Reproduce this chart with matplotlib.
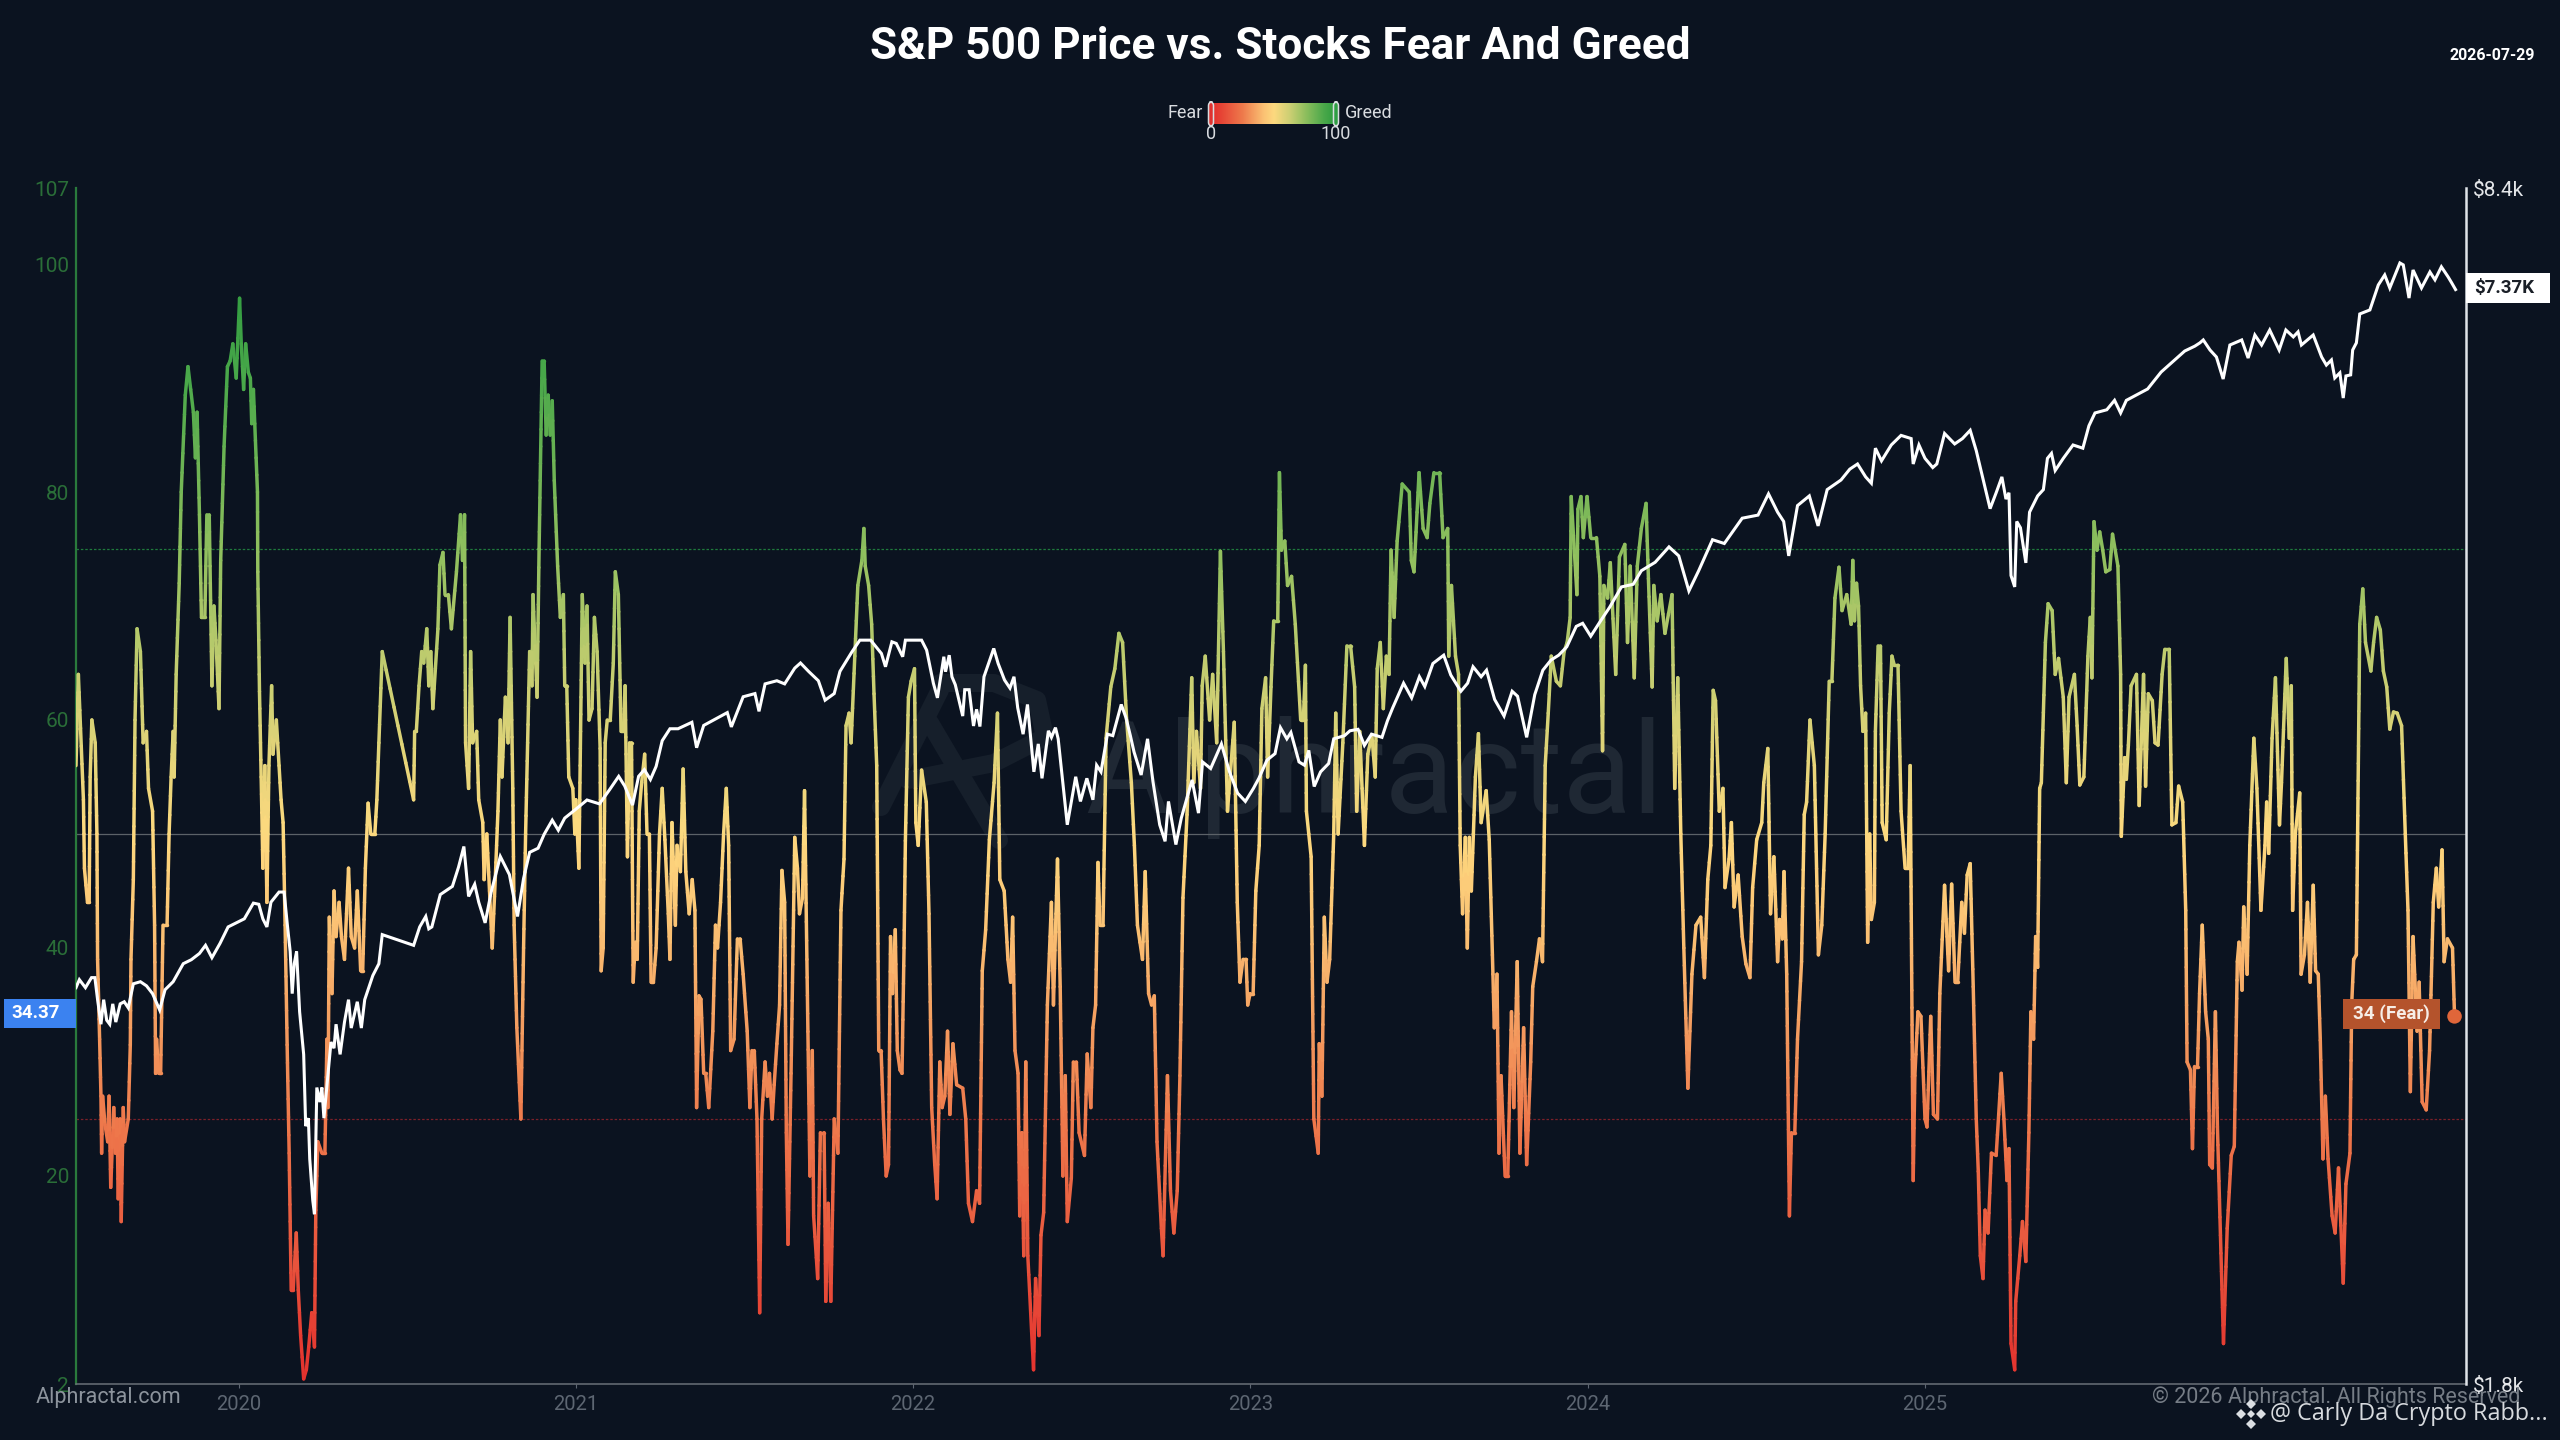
import numpy as np
import matplotlib
matplotlib.use("Agg")
import matplotlib.pyplot as plt
from matplotlib.collections import LineCollection
from matplotlib.colors import LinearSegmentedColormap
from matplotlib.lines import Line2D
from matplotlib.patches import Rectangle, FancyBboxPatch, Polygon
from matplotlib.ticker import NullLocator

plt.rcParams['font.family'] = ['Roboto', 'DejaVu Sans']

# ---------- data: (decimal year, value) ----------
fg_2019 = [(2019.518,56),(2019.525,64),(2019.540,53),(2019.543,47),(2019.552,44),(2019.557,44),(2019.560,55),(2019.565,60),(2019.575,58),(2019.580,50),(2019.582,39),(2019.588,32),(2019.592,27),(2019.594,22),(2019.597,27),(2019.604,24.5),(2019.612,23),(2019.616,27),(2019.621,19),(2019.630,26),(2019.635,22),(2019.640,25),(2019.643,18),(2019.649,25),(2019.652,16),(2019.658,26),(2019.662,23),(2019.673,25),(2019.679,31.5),(2019.681,39),(2019.688,46),(2019.693,60),(2019.699,68),(2019.709,66),(2019.717,58),(2019.727,59),(2019.733,54),(2019.745,52),(2019.751,42),(2019.754,29),(2019.757,32),(2019.763,29),(2019.769,29),(2019.776,42),(2019.788,42),(2019.794,50),(2019.800,55),(2019.806,59),(2019.809,55),(2019.815,64),(2019.824,72),(2019.830,80),(2019.842,88.5),(2019.850,91),(2019.858,89),(2019.866,87),(2019.872,83),(2019.877,87),(2019.884,78),(2019.890,69),(2019.900,69),(2019.906,78),(2019.913,78),(2019.921,63),(2019.927,70),(2019.933,67),(2019.942,61),(2019.947,74),(2019.957,84),(2019.967,91),(2019.975,91.5),(2019.983,93),(2019.993,90)]
fg_2020 = [(2020.003,97),(2020.008,93),(2020.015,89),(2020.021,93),(2020.029,90.5),(2020.035,90),(2020.039,86),(2020.044,89),(2020.048,86),(2020.056,80),(2020.057,73),(2020.062,62.5),(2020.068,53.5),(2020.072,47),(2020.078,56),(2020.084,44),(2020.090,56),(2020.098,63),(2020.102,57),(2020.112,60),(2020.120,56),(2020.126,53),(2020.132,51),(2020.138,42),(2020.144,31.5),(2020.150,22),(2020.156,10),(2020.162,10),(2020.171,15),(2020.177,10),(2020.184,6),(2020.193,2.2),(2020.201,3),(2020.208,5),(2020.217,8),(2020.225,5),(2020.229,17),(2020.235,23),(2020.247,22),(2020.256,22),(2020.262,32),(2020.265,26),(2020.269,42.7),(2020.277,36),(2020.283,45),(2020.289,41),(2020.298,44),(2020.305,41),(2020.314,39),(2020.320,43),(2020.326,47),(2020.334,41),(2020.344,40),(2020.352,45),(2020.362,38),(2020.368,38),(2020.376,47),(2020.384,52.7),(2020.392,50),(2020.404,50),(2020.410,53),(2020.416,58),(2020.426,66),(2020.519,53),(2020.522,59),(2020.527,59),(2020.535,63),(2020.543,66),(2020.549,65),(2020.558,68),(2020.564,63),(2020.570,66),(2020.576,61),(2020.591,68),(2020.597,73.6),(2020.606,74.7),(2020.612,71),(2020.622,71),(2020.631,68),(2020.646,73),(2020.658,78),(2020.664,74),(2020.670,78),(2020.673,58),(2020.682,54),(2020.688,66),(2020.694,58),(2020.706,59),(2020.712,53),(2020.724,51),(2020.728,46),(2020.736,50),(2020.752,40),(2020.761,46),(2020.769,52),(2020.776,60),(2020.781,55),(2020.791,62),(2020.799,58),(2020.805,69),(2020.813,54),(2020.817,42),(2020.825,33),(2020.837,25),(2020.845,40),(2020.851,50),(2020.863,66),(2020.870,63),(2020.873,71),(2020.885,62),(2020.891,75),(2020.900,91.5),(2020.906,91.5),(2020.912,85),(2020.918,88.5),(2020.924,85),(2020.930,88),(2020.936,81),(2020.946,73.5),(2020.954,69),(2020.963,71),(2020.967,63),(2020.973,63),(2020.979,55),(2020.991,54),(2020.997,50)]
fg_2021 = [(2021.000,53),(2021.009,47),(2021.019,71),(2021.027,65),(2021.033,70),(2021.039,60),(2021.048,61),(2021.055,69),(2021.063,66),(2021.072,57.5),(2021.075,38),(2021.081,40),(2021.087,58),(2021.093,60),(2021.102,60),(2021.111,65),(2021.117,73),(2021.126,71),(2021.134,59),(2021.141,59),(2021.146,63),(2021.153,48),(2021.159,58),(2021.165,58),(2021.170,37),(2021.176,40.5),(2021.182,39),(2021.188,52),(2021.195,54.5),(2021.204,57),(2021.211,50),(2021.218,50),(2021.223,37),(2021.230,37),(2021.238,40),(2021.248,50),(2021.256,54),(2021.264,49.5),(2021.274,43),(2021.279,39),(2021.285,51),(2021.295,42),(2021.300,49),(2021.310,46.7),(2021.318,55.7),(2021.326,46.7),(2021.336,43),(2021.345,46),(2021.353,43.3),(2021.358,26),(2021.365,35.8),(2021.371,35.5),(2021.379,29),(2021.385,29),(2021.394,26),(2021.406,32.7),(2021.414,42),(2021.420,40),(2021.429,44),(2021.438,50),(2021.446,54),(2021.453,49),(2021.459,31),(2021.469,32),(2021.479,40.8),(2021.487,40.8),(2021.496,37.7),(2021.508,32.7),(2021.516,26),(2021.522,31),(2021.529,31),(2021.537,25),(2021.545,8),(2021.551,25),(2021.561,30),(2021.568,27),(2021.574,29),(2021.582,25),(2021.588,28),(2021.596,31.6),(2021.604,35),(2021.611,46.8),(2021.619,44),(2021.624,23.8),(2021.629,14),(2021.638,29),(2021.649,49.7),(2021.657,47),(2021.663,43),(2021.672,44.4),(2021.678,53.8),(2021.685,39),(2021.694,20),(2021.701,31),(2021.705,16.5),(2021.717,11),(2021.725,23.8),(2021.736,23.8),(2021.741,9),(2021.748,17.6),(2021.756,9),(2021.766,25),(2021.777,22),(2021.786,43.3),(2021.795,47.8),(2021.801,59.5),(2021.810,60.6),(2021.816,58),(2021.827,65.6),(2021.836,71.8),(2021.848,74),(2021.854,76.8),(2021.858,73.5),(2021.868,71.8),(2021.877,68.4),(2021.884,62.3),(2021.892,56),(2021.898,31),(2021.905,31),(2021.912,25),(2021.920,20),(2021.927,21),(2021.933,41),(2021.939,36),(2021.947,41.6),(2021.953,31),(2021.961,29.3),(2021.967,29),(2021.973,40),(2021.977,49.4),(2021.986,62),(2021.994,63.4)]
fg_2022 = [(2022.004,64.5),(2022.008,51),(2022.015,49),(2022.025,55.6),(2022.039,52.8),(2022.047,43),(2022.055,26),(2022.064,21),(2022.071,18),(2022.079,30),(2022.086,26),(2022.094,27),(2022.102,32.7),(2022.109,25.4),(2022.118,31.6),(2022.129,28),(2022.147,27.7),(2022.156,25),(2022.164,17.6),(2022.176,16),(2022.188,18.7),(2022.197,17.6),(2022.205,38),(2022.215,41.6),(2022.226,49.5),(2022.240,54.5),(2022.250,60.6),(2022.257,46),(2022.270,45),(2022.281,39),(2022.289,37),(2022.295,42.7),(2022.302,31),(2022.311,29),(2022.316,16.5),(2022.322,23.8),(2022.328,13),(2022.334,30),(2022.340,13),(2022.357,3),(2022.363,11),(2022.373,6),(2022.379,14.8),(2022.387,16.8),(2022.398,35),(2022.410,44),(2022.416,35),(2022.428,47.8),(2022.436,36.6),(2022.444,20),(2022.451,28.8),(2022.457,16),(2022.469,19.8),(2022.475,30),(2022.484,30),(2022.492,23.8),(2022.508,21.8),(2022.516,30.7),(2022.527,26),(2022.533,33),(2022.541,35),(2022.548,47.5),(2022.554,42),(2022.563,42),(2022.572,58.4),(2022.586,62.9),(2022.598,64.5),(2022.610,67.6),(2022.621,66.8),(2022.633,60),(2022.647,54.5),(2022.656,49),(2022.665,42),(2022.680,39),(2022.688,46.7),(2022.698,36),(2022.707,35),(2022.715,35.8),(2022.723,23),(2022.736,15.4),(2022.741,13),(2022.754,28.8),(2022.763,18.7),(2022.773,15),(2022.783,18.7),(2022.791,28.8),(2022.800,44.4),(2022.812,51.7),(2022.826,63.7),(2022.832,54.5),(2022.840,59),(2022.852,54),(2022.857,63),(2022.866,65.6),(2022.879,60),(2022.888,64),(2022.900,58),(2022.911,74.8),(2022.920,66),(2022.932,52),(2022.952,59.8),(2022.961,44),(2022.969,37),(2022.978,39),(2022.987,39),(2022.992,35),(2022.999,36)]
fg_2023 = [(2023.008,36),(2023.016,45),(2023.026,49),(2023.034,61),(2023.045,63.7),(2023.051,55),(2023.061,62.9),(2023.069,68.7),(2023.081,68.7),(2023.086,81.7),(2023.092,74.9),(2023.102,75.7),(2023.110,71.8),(2023.122,72.6),(2023.133,68.4),(2023.149,60),(2023.157,60),(2023.163,64.8),(2023.166,52),(2023.180,48),(2023.188,25),(2023.201,22),(2023.204,31.6),(2023.212,27),(2023.219,42.7),(2023.227,37),(2023.235,39),(2023.247,50),(2023.253,60.6),(2023.260,50),(2023.274,58),(2023.286,66.5),(2023.297,66.5),(2023.309,62.9),(2023.315,52),(2023.324,59),(2023.338,49),(2023.348,57),(2023.360,58.7),(2023.370,55),(2023.376,64.5),(2023.385,66.8),(2023.394,61),(2023.403,65.6),(2023.411,64),(2023.417,74.9),(2023.426,69),(2023.435,75.7),(2023.450,80.7),(2023.471,80),(2023.477,74),(2023.485,73),(2023.500,81.7),(2023.512,76.8),(2023.524,76),(2023.532,79),(2023.544,81.7),(2023.561,81.7),(2023.571,76),(2023.585,76.8),(2023.588,65.6),(2023.596,71.8),(2023.608,65.6),(2023.617,64),(2023.622,49),(2023.629,43),(2023.637,49.7),(2023.643,40),(2023.649,49.7),(2023.655,45),(2023.667,55),(2023.676,58.8),(2023.684,51),(2023.699,53.8),(2023.708,49.5),(2023.719,37.7),(2023.723,33),(2023.731,37.7),(2023.737,22),(2023.743,28.8),(2023.755,20),(2023.763,20),(2023.774,34.4),(2023.781,26),(2023.791,38.8),(2023.799,22),(2023.810,33),(2023.819,21),(2023.831,30),(2023.837,36.6),(2023.848,38.8),(2023.857,40.8),(2023.866,38.8),(2023.874,56),(2023.883,60.6),(2023.892,65.6),(2023.907,63.4),(2023.919,63),(2023.930,66),(2023.939,66.8),(2023.948,69),(2023.951,79.6),(2023.968,71),(2023.971,78.5),(2023.980,79.6),(2023.987,76),(2023.998,79.6)]
fg_2024 = [(2024.009,76),(2024.026,76),(2024.036,72.6),(2024.044,57.3),(2024.048,71.8),(2024.059,70.7),(2024.067,73.8),(2024.083,64),(2024.094,74.3),(2024.110,75.4),(2024.118,66.8),(2024.126,73.5),(2024.138,63.7),(2024.147,73.5),(2024.159,76.8),(2024.173,79),(2024.180,72.4),(2024.191,62.9),(2024.196,71.8),(2024.206,68.7),(2024.217,71),(2024.229,67.6),(2024.250,71),(2024.258,54),(2024.267,63.7),(2024.276,50),(2024.285,40),(2024.297,27.7),(2024.309,37.7),(2024.321,42),(2024.335,42.7),(2024.346,37.4),(2024.356,46),(2024.365,49),(2024.372,62.6),(2024.379,61.7),(2024.390,52),(2024.401,54),(2024.407,45.3),(2024.419,47.8),(2024.426,51),(2024.434,43.6),(2024.446,46.4),(2024.458,41),(2024.469,38.6),(2024.481,37.4),(2024.489,45.3),(2024.501,49.5),(2024.516,51),(2024.522,54.5),(2024.534,57.5),(2024.542,43),(2024.552,48),(2024.563,38.8),(2024.569,42.5),(2024.577,40.8),(2024.582,46.7),(2024.590,37.7),(2024.598,16.5),(2024.604,23.8),(2024.614,23.8),(2024.622,32),(2024.634,38.8),(2024.642,51.7),(2024.649,52.8),(2024.659,60),(2024.672,56),(2024.684,39.4),(2024.694,42),(2024.704,50),(2024.716,63.4),(2024.724,63.4),(2024.733,70.7),(2024.745,73.4),(2024.754,69.6),(2024.768,71),(2024.781,68.4),(2024.786,74),(2024.791,68.7),(2024.797,72),(2024.803,70),(2024.809,63),(2024.816,59),(2024.824,60.6),(2024.830,40.5),(2024.836,50),(2024.841,42.5),(2024.850,44),(2024.853,59),(2024.861,66.5),(2024.868,66.5),(2024.873,51),(2024.885,49.5),(2024.894,60.6),(2024.902,65.6),(2024.909,64.8),(2024.920,64.8),(2024.929,52),(2024.941,47),(2024.950,47),(2024.956,56),(2024.965,19.6),(2024.970,28.8),(2024.979,34.4),(2024.988,34)]
fg_2025 = [(2025.000,25),(2025.006,24.3),(2025.017,34),(2025.025,25.4),(2025.037,25),(2025.044,36),(2025.058,45.5),(2025.070,38),(2025.079,45.6),(2025.089,37),(2025.097,37),(2025.109,44),(2025.117,41.3),(2025.125,46.4),(2025.134,47.4),(2025.143,36.6),(2025.152,25),(2025.158,20.4),(2025.164,13),(2025.172,11),(2025.178,17),(2025.187,15),(2025.197,22),(2025.211,21.8),(2025.226,29),(2025.234,25),(2025.243,19.6),(2025.249,22.4),(2025.255,5.3),(2025.266,3),(2025.269,9),(2025.281,13),(2025.289,16),(2025.299,12.5),(2025.308,23.8),(2025.314,34.4),(2025.322,32),(2025.328,41),(2025.334,38.3),(2025.340,54),(2025.345,54.5),(2025.357,66.8),(2025.365,70.2),(2025.377,69.6),(2025.386,64),(2025.396,65.4),(2025.410,62),(2025.419,54.5),(2025.427,62),(2025.443,64),(2025.451,59.5),(2025.459,54.3),(2025.471,55),(2025.483,65.6),(2025.490,69),(2025.495,63.7),(2025.501,77.4),(2025.510,74.9),(2025.518,76.5),(2025.527,74.9),(2025.536,73),(2025.548,73.2),(2025.556,76.3),(2025.572,73.5),(2025.580,64),(2025.582,49.8),(2025.592,56.7),(2025.597,54.8),(2025.603,57.8),(2025.611,63),(2025.627,64),(2025.635,52.5),(2025.648,64),(2025.654,54.2),(2025.662,62.3),(2025.674,61.7),(2025.682,58),(2025.691,57.8),(2025.703,64),(2025.711,66.2),(2025.724,66.2),(2025.732,50.8),(2025.744,51),(2025.752,54.2),(2025.764,52.8),(2025.773,43.3),(2025.777,30),(2025.787,29.3),(2025.793,22.4),(2025.799,29.6),(2025.808,29.6),(2025.814,36),(2025.822,42),(2025.832,34.4),(2025.840,32),(2025.844,21),(2025.852,20.7),(2025.861,34.4),(2025.867,24.3),(2025.885,5.3),(2025.896,15.4),(2025.908,21.8),(2025.917,22.6),(2025.926,38.8),(2025.931,40.5),(2025.940,36.3),(2025.945,43.6),(2025.955,37.7),(2025.963,49),(2025.975,58.4),(2025.984,54),(2025.996,43.3)]
fg_2026 = [(2026.008,49),(2026.013,52.8),(2026.019,48.3),(2026.029,58.4),(2026.039,63.7),(2026.051,50.8),(2026.057,54.5),(2026.071,65.4),(2026.080,58.4),(2026.086,63),(2026.090,43.3),(2026.098,50),(2026.111,53.6),(2026.115,37.7),(2026.125,39.4),(2026.134,44),(2026.142,37),(2026.151,45.5),(2026.158,38),(2026.166,37.7),(2026.172,31.9),(2026.180,21.5),(2026.187,27),(2026.195,21.5),(2026.207,16.5),(2026.216,15),(2026.226,20.7),(2026.240,10.6),(2026.248,19.3),(2026.260,22),(2026.265,35),(2026.271,39),(2026.279,39.4),(2026.289,68.4),(2026.298,71.5),(2026.306,66.8),(2026.322,64.3),(2026.330,66.8),(2026.339,69),(2026.350,67.9),(2026.359,64.3),(2026.369,62.9),(2026.378,59.2),(2026.389,60.7),(2026.400,60.6),(2026.413,59.5),(2026.424,50),(2026.432,43.3),(2026.439,27.4),(2026.447,41),(2026.459,32.7),(2026.465,37),(2026.474,26.5),(2026.486,25.8),(2026.496,31),(2026.507,44),(2026.516,47),(2026.523,43.6),(2026.533,48.6),(2026.539,38.8),(2026.549,40.8),(2026.564,40),(2026.570,34)]

spx_2019 = [(2019.518,2999),(2019.528,3030),(2019.546,2999),(2019.564,3038),(2019.574,3038),(2019.582,2953),(2019.592,2861),(2019.600,2953),(2019.609,2876),(2019.618,2861),(2019.627,2937),(2019.636,2869),(2019.649,2937),(2019.661,2945),(2019.673,2922),(2019.688,3014),(2019.709,3022),(2019.727,3006),(2019.745,2976),(2019.766,2914),(2019.782,2991),(2019.806,3022),(2019.836,3093),(2019.860,3109),(2019.884,3134),(2019.902,3167),(2019.921,3117),(2019.945,3175),(2019.969,3243),(2019.993,3260)]
spx_2020 = [(2020.017,3277),(2020.044,3344),(2020.060,3339),(2020.072,3277),(2020.084,3243),(2020.096,3348),(2020.120,3392),(2020.135,3392),(2020.144,3260),(2020.153,3142),(2020.159,2976),(2020.165,3093),(2020.172,3142),(2020.181,2907),(2020.193,2752),(2020.199,2509),(2020.207,2535),(2020.211,2405),(2020.220,2280),(2020.225,2240),(2020.232,2637),(2020.241,2588),(2020.247,2637),(2020.253,2535),(2020.274,2796),(2020.283,2774),(2020.289,2861),(2020.301,2752),(2020.314,2869),(2020.326,2953),(2020.334,2847),(2020.352,2945),(2020.364,2847),(2020.374,2953),(2020.398,3046),(2020.416,3093),(2020.426,3211),(2020.519,3167),(2020.537,3243),(2020.555,3287),(2020.564,3235),(2020.573,3243),(2020.598,3381),(2020.634,3417),(2020.652,3502),(2020.668,3597),(2020.682,3373),(2020.700,3426),(2020.712,3348),(2020.731,3260),(2020.749,3392),(2020.776,3551),(2020.803,3469),(2020.827,3287),(2020.845,3452),(2020.863,3570),(2020.888,3589),(2020.906,3654),(2020.930,3721),(2020.948,3673),(2020.967,3731),(2020.997,3770)]
spx_2021 = [(2021.033,3819),(2021.070,3800),(2021.100,3870),(2021.127,3937),(2021.145,3888),(2021.168,3794),(2021.186,3937),(2021.203,3971),(2021.221,3921),(2021.238,3988),(2021.256,4122),(2021.279,4186),(2021.303,4186),(2021.344,4221),(2021.358,4085),(2021.379,4204),(2021.414,4239),(2021.449,4274),(2021.461,4196),(2021.496,4362),(2021.531,4380),(2021.543,4281),(2021.561,4435),(2021.596,4453),(2021.619,4435),(2021.649,4526),(2021.666,4556),(2021.690,4507),(2021.719,4453),(2021.739,4343),(2021.766,4380),(2021.783,4507),(2021.818,4620),(2021.842,4692),(2021.874,4692),(2021.906,4612),(2021.918,4534),(2021.937,4682),(2021.950,4672),(2021.969,4593),(2021.977,4692)]
spx_2022 = [(2022.025,4692),(2022.040,4632),(2022.060,4439),(2022.072,4356),(2022.091,4593),(2022.096,4505),(2022.107,4602),(2022.115,4476),(2022.125,4430),(2022.147,4255),(2022.153,4402),(2022.166,4402),(2022.179,4201),(2022.188,4292),(2022.198,4198),(2022.210,4476),(2022.239,4642),(2022.252,4553),(2022.271,4457),(2022.287,4411),(2022.299,4476),(2022.310,4301),(2022.326,4157),(2022.339,4319),(2022.358,3960),(2022.371,4105),(2022.382,3927),(2022.401,4175),(2022.410,4140),(2022.422,4192),(2022.430,4132),(2022.457,3699),(2022.482,3935),(2022.496,3812),(2022.515,3927),(2022.533,3820),(2022.544,3994),(2022.557,3960),(2022.576,4157),(2022.592,4149),(2022.617,4319),(2022.631,4246),(2022.644,4149),(2022.655,4062),(2022.676,3944),(2022.695,4132),(2022.711,3911),(2022.731,3699),(2022.747,3621),(2022.757,3812),(2022.779,3606),(2022.795,3731),(2022.827,3919),(2022.846,3755),(2022.858,4011),(2022.882,3977),(2022.914,4105),(2022.938,3960),(2022.962,3853),(2022.985,3812)]
spx_2023 = [(2023.009,3877),(2023.025,3927),(2023.049,4020),(2023.073,4054),(2023.089,4192),(2023.108,4132),(2023.120,4166),(2023.144,4011),(2023.160,3994),(2023.173,4071),(2023.189,3886),(2023.208,3960),(2023.232,4003),(2023.247,4132),(2023.279,4149),(2023.295,4175),(2023.319,4183),(2023.338,4097),(2023.359,4157),(2023.390,4140),(2023.406,4228),(2023.422,4301),(2023.454,4439),(2023.478,4356),(2023.501,4476),(2023.517,4420),(2023.541,4553),(2023.573,4602),(2023.594,4486),(2023.624,4393),(2023.644,4439),(2023.660,4534),(2023.684,4476),(2023.700,4514),(2023.724,4347),(2023.752,4255),(2023.776,4393),(2023.792,4365),(2023.819,4140),(2023.843,4374),(2023.867,4514),(2023.891,4573),(2023.914,4602),(2023.938,4652),(2023.966,4776),(2023.985,4795)]
spx_2024 = [(2024.009,4716),(2024.036,4803),(2024.065,4895),(2024.100,5025),(2024.135,5042),(2024.159,5131),(2024.200,5187),(2024.241,5291),(2024.270,5230),(2024.300,4999),(2024.329,5131),(2024.370,5340),(2024.405,5314),(2024.458,5490),(2024.505,5512),(2024.536,5665),(2024.563,5533),(2024.581,5467),(2024.596,5230),(2024.622,5580),(2024.657,5650),(2024.683,5436),(2024.710,5696),(2024.751,5767),(2024.777,5848),(2024.800,5887),(2024.824,5790),(2024.841,5743),(2024.853,6008),(2024.871,5911),(2024.900,6033),(2024.929,6108),(2024.959,6083),(2024.965,5887),(2024.982,6033)]
spx_2025 = [(2025.000,5930),(2025.023,5860),(2025.035,5887),(2025.058,6123),(2025.088,6041),(2025.111,6083),(2025.134,6148),(2025.152,5989),(2025.175,5743),(2025.193,5558),(2025.211,5673),(2025.228,5790),(2025.240,5627),(2025.249,5673),(2025.255,5099),(2025.266,5025),(2025.272,5467),(2025.283,5423),(2025.299,5183),(2025.310,5533),(2025.334,5650),(2025.351,5696),(2025.363,5930),(2025.375,5968),(2025.386,5838),(2025.410,5930),(2025.439,6033),(2025.468,6008),(2025.486,6184),(2025.504,6287),(2025.539,6313),(2025.562,6390),(2025.580,6287),(2025.597,6390),(2025.660,6484),(2025.700,6627),(2025.740,6731),(2025.770,6809),(2025.800,6852),(2025.815,6881),(2025.825,6907),(2025.845,6818),(2025.864,6757),(2025.884,6568),(2025.904,6862),(2025.939,6907),(2025.958,6748),(2025.978,6951),(2025.998,6862)]
spx_2026 = [(2026.022,6996),(2026.050,6818),(2026.070,6996),(2026.092,6934),(2026.106,6979),(2026.116,6862),(2026.151,6951),(2026.176,6757),(2026.190,6687),(2026.205,6731),(2026.215,6577),(2026.230,6620),(2026.240,6409),(2026.248,6594),(2026.262,6603),(2026.268,6818),(2026.279,6881),(2026.289,7142),(2026.319,7179),(2026.329,7272),(2026.344,7414),(2026.363,7510),(2026.378,7385),(2026.408,7627),(2026.418,7608),(2026.435,7290),(2026.447,7558),(2026.472,7385),(2026.497,7539),(2026.512,7463),(2026.531,7589),(2026.551,7491),(2026.561,7437),(2026.573,7370)]

fg_years = [2020, 2021, 2022, 2023, 2024, 2025]
fg_ymin, fg_ymax = 1.75, 106.67
left_ticks = [fg_ymin, 20, 40, 60, 80, 100, fg_ymax]
left_labels = ['2', '20', '40', '60', '80', '100', '107']
zone_levels = {'greed': 75, 'neutral': 50, 'fear': 25}
current_fg = 34
current_spx = 7370
crosshair = 34.37

# ---------- layout helpers (pixels of the 2560x1440 canvas) ----------
W, H = 2560, 1440
BG = '#0b1320'
fig = plt.figure(figsize=(W/100, H/100), dpi=100, facecolor=BG)
def fx(x): return x / W
def fy(y): return 1 - y / H
L, R, T, B = 76, 2466, 188, 1384
ax = fig.add_axes([fx(L), fy(B), (R-L)/W, (B-T)/H])
ax.patch.set_alpha(0)

cmap = LinearSegmentedColormap.from_list('fg', [
    (0.00, '#e32b2b'), (0.25, '#ee7a4c'), (0.42, '#fbc274'), (0.50, '#fdd97f'),
    (0.62, '#cfd074'), (0.75, '#8fbf5e'), (0.90, '#4aa84a'), (1.00, '#2a9a3e')])

fg = np.array(fg_2019 + fg_2020 + fg_2021 + fg_2022 + fg_2023 + fg_2024 + fg_2025 + fg_2026)
spx = np.array(spx_2019 + spx_2020 + spx_2021 + spx_2022 + spx_2023 + spx_2024 + spx_2025 + spx_2026)

# gradient line: split every data segment so that colour follows the value
xs, ys = [], []
for (x0, y0), (x1, y1) in zip(fg[:-1], fg[1:]):
    n = max(1, int(abs(y1 - y0) / 1.5))
    t = np.linspace(0, 1, n, endpoint=False)
    xs.extend(x0 + (x1 - x0) * t); ys.extend(y0 + (y1 - y0) * t)
xs.append(fg[-1, 0]); ys.append(fg[-1, 1])
pts = np.column_stack([xs, ys]).reshape(-1, 1, 2)
segs = np.concatenate([pts[:-1], pts[1:]], axis=1)
lc = LineCollection(segs, cmap=cmap, norm=plt.Normalize(0, 100), linewidths=2.5,
                    capstyle='round', joinstyle='round', zorder=3)
lc.set_array((np.array(ys[:-1]) + np.array(ys[1:])) / 2)
ax.add_collection(lc)

xmin, xmax = 2019.518, 2026.604
ax.set_xlim(xmin, xmax)
ax.set_ylim(fg_ymin, fg_ymax)
ax.axhline(zone_levels['greed'], color='#1f7a3c', lw=0.9, ls=(0, (2, 1.5)), zorder=1)
ax.axhline(zone_levels['neutral'], color='#5c6268', lw=0.9, zorder=1)
ax.axhline(zone_levels['fear'], color='#7a2029', lw=0.9, ls=(0, (2, 1.5)), zorder=1)

ax.set_xticks(fg_years)
ax.set_xticklabels([str(y) for y in fg_years], color='#5d6672', fontsize=14.5)
ax.tick_params(axis='x', length=3, color='#5d6672', pad=5)
ax.set_yticks(left_ticks)
ax.set_yticklabels(left_labels, color='#2a6e38', fontsize=15)
ax.tick_params(axis='y', length=0, pad=5)
for s in ['top', 'right']:
    ax.spines[s].set_visible(False)
ax.spines['left'].set_color('#2a7a3c'); ax.spines['left'].set_linewidth(1.6)
ax.spines['bottom'].set_color('#6a7078'); ax.spines['bottom'].set_linewidth(1.1)

ax2 = ax.twinx()
ax2.patch.set_alpha(0)
ax2.set_yscale('log')
ax2.set_ylim(1800, 8400)
ax2.plot(spx[:, 0], spx[:, 1], color='white', lw=2.2, zorder=4, solid_joinstyle='miter')
ax2.set_yticks([1800, 8400])
ax2.set_yticklabels(['$1.8k', '$8.4k'], color='#e4e6e9', fontsize=15)
ax2.yaxis.set_minor_locator(NullLocator())
ax2.tick_params(axis='y', length=0, pad=5)
for s in ['top', 'left', 'bottom']:
    ax2.spines[s].set_visible(False)
ax2.spines['right'].set_color('#dfe3e8'); ax2.spines['right'].set_linewidth(1.8)

# last-value dot
ax.scatter([fg[-1, 0]], [current_fg], s=110, color='#e0663a', edgecolor='none', zorder=6, clip_on=False)

# ---------- watermark ----------
fig.text(fx(1085), fy(813), 'Alphractal', color='#1f2834', fontsize=92, ha='left', va='baseline', zorder=-1)
for p in ([(881, 807), (940, 690)],
          [(940, 683), (994, 683), (1037, 700), (1045, 737), (994, 763), (908, 780)],
          [(930, 723), (999, 840)]):
    fig.add_artist(Line2D([fx(a) for a, _ in p], [fy(b) for _, b in p], color='#161f2b', lw=13,
                          transform=fig.transFigure, zorder=-1, solid_capstyle='round'))

# ---------- title & texts ----------
fig.text(fx(1280), fy(47), 'S&P 500 Price vs. Stocks Fear And Greed', color='white', fontsize=31.8,
         fontweight='bold', ha='center', va='center')
fig.text(fx(2535), fy(56), '2026-07-29', color='white', fontsize=11.5, fontweight='bold', ha='right', va='center')

# gradient legend
lax = fig.add_axes([fx(1211), fy(124), 126/W, 21/H])
lax.imshow(np.linspace(0, 1, 256).reshape(1, -1), cmap=cmap, aspect='auto')
lax.axis('off')
for x, c in ((1211, '#e0312f'), (1336, '#2f9e44')):
    fig.add_artist(FancyBboxPatch((fx(x - 2.5), fy(126)), 5/W, 24/H, boxstyle='round,pad=0,rounding_size=0.0015',
                                  transform=fig.transFigure, fc=c, ec='#d8dcdf', lw=1.1, zorder=5, mutation_aspect=1.7))
tc = '#d9dce0'
fig.text(fx(1203), fy(113), 'Fear', color=tc, fontsize=13, ha='right', va='center')
fig.text(fx(1345), fy(113), 'Greed', color=tc, fontsize=13, ha='left', va='center')
fig.text(fx(1211), fy(134), '0', color=tc, fontsize=13, ha='center', va='center')
fig.text(fx(1336), fy(134), '100', color=tc, fontsize=13, ha='center', va='center')

# boxes
def box(x0, y0, x1, y1, color, text, tcolor, dx=0):
    fig.add_artist(Rectangle((fx(x0), fy(y1)), (x1 - x0)/W, (y1 - y0)/H, transform=fig.transFigure,
                             fc=color, ec='none', zorder=7))
    fig.text(fx((x0 + x1) / 2 + dx), fy((y0 + y1) / 2), text, color=tcolor, fontsize=13.5, fontweight='bold',
             ha='center', va='center', zorder=8)
box(4, 999, 76, 1028, '#3b82f0', f'{crosshair:.2f}', 'white', dx=-4)
box(2343, 999, 2440, 1029, '#b4532c', f'{current_fg} (Fear)', '#f6ede6')
box(2466, 273, 2550, 303, 'white', f'${current_spx/1000:.2f}K', '#1a1f27', dx=-4)

# footer
fig.text(fx(36), fy(1398), 'Alphractal.com', color='#8c939c', fontsize=15.5, ha='left', va='center')
fig.text(fx(2520), fy(1397), '© 2026 Alphractal. All Rights Reserved', color='#767d86', fontsize=15.5,
         ha='right', va='center', zorder=6)
fig.text(fx(2270), fy(1414), '@ Carly Da Crypto Rabb...', color='#d7dade', fontsize=16.8, ha='left', va='center',
         family=['Open Sans', 'DejaVu Sans'], zorder=8)
for cx, cy, r in ((2251, 1414, 4), (2251, 1404, 5), (2251, 1424, 5), (2241, 1414, 5), (2261, 1414, 5)):
    fig.add_artist(Polygon([(fx(cx - r), fy(cy)), (fx(cx), fy(cy - r)), (fx(cx + r), fy(cy)), (fx(cx), fy(cy + r))],
                           transform=fig.transFigure, fc='#dcdfe3', ec='none', zorder=8))

fig.savefig('out.png', dpi=100, facecolor=BG)
